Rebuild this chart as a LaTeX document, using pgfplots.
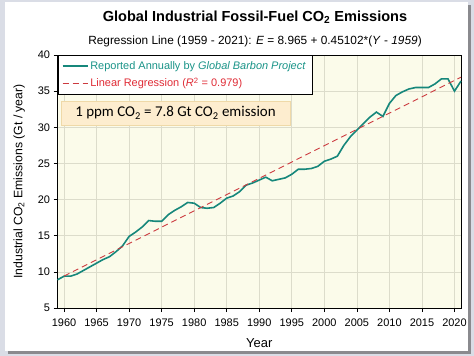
\documentclass[border=0pt]{standalone}
\usepackage{pgfplots}
\pgfplotsset{compat=1.18}
\usepackage{fontspec}
\setmainfont{Liberation Sans}
\newfontfamily\calibri{Carlito}
\definecolor{teal1}{HTML}{16877B}
\definecolor{tealtxt}{HTML}{1A9488}
\definecolor{red1}{HTML}{CC3A3F}
\definecolor{redtxt}{HTML}{E02C36}
\definecolor{bgplot}{HTML}{FBFBEA}
\definecolor{gridc}{HTML}{DCDCCB}
\definecolor{boxfill}{HTML}{FDEDCF}
\definecolor{boxdraw}{HTML}{EFD9A8}
\definecolor{outer}{HTML}{DADDE6}
\definecolor{shadow}{HTML}{8A8A8E}
\begin{document}
\begin{tikzpicture}
\useasboundingbox (0bp,0bp) rectangle (474bp,-356bp);
\fill[outer] (0bp,0bp) rectangle (474bp,-356bp);
\fill[shadow] (8bp,-5bp) rectangle (471bp,-354bp);
\fill[white] (5bp,-2bp) rectangle (468bp,-351bp);
\node[font=\fontsize{14.6}{17}\selectfont\bfseries] at (255bp,-17bp) {Global Industrial Fossil-Fuel CO\textsubscript{2} Emissions};
\node[font=\fontsize{11.9}{14}\selectfont] at (255bp,-41bp) {Regression Line (1959 - 2021): \textit{E} = 8.965 + 0.45102*(\textit{Y} - \textit{1959})};
\begin{axis}[
  at={(57.5bp,-308bp)}, anchor=south west,
  scale only axis, width=403.5bp, height=253bp,
  xmin=1959, xmax=2021, ymin=5, ymax=40,
  xtick={1960,1965,...,2020}, ytick={5,10,...,40},
  axis background/.style={fill=bgplot},
  grid=major, major grid style={gridc, line width=0.6pt},
  tick align=outside, tick pos=left,
  major tick length=4bp,
  tick style={black, line width=0.6pt},
  axis line style={line width=0.8pt},
  /pgf/number format/1000 sep={},
  /pgf/number format/assume math mode=true,
  ticklabel style={font=\fontsize{11}{13}\selectfont},
  xticklabel style={yshift=-3bp},
  xlabel={Year}, xlabel style={font=\fontsize{13}{15}\selectfont, yshift=-5bp},
  ylabel={Industrial CO\textsubscript{2} Emissions (Gt / year)},
  ylabel style={font=\fontsize{12.3}{14}\selectfont, yshift=6bp},
  legend style={at={(0,1)}, anchor=north west, draw=black, fill=white,
    line width=0.5pt, font=\fontsize{11}{13}\selectfont, inner xsep=4bp, inner ysep=4bp,
    row sep=3bp, cells={anchor=west}},
  legend image code/.code={\draw[#1] (0bp,0bp) -- (25bp,0bp);},
  legend cell align=left,
  clip=false,
]
\addplot[teal1, line width=1.6pt] coordinates {
(1959,8.9) (1960,9.4) (1961,9.4) (1962,9.7) (1963,10.2) (1964,10.7) (1965,11.2)
(1966,11.7) (1967,12.1) (1968,12.8) (1969,13.6) (1970,14.9) (1971,15.5) (1972,16.2)
(1973,17.1) (1974,17.0) (1975,17.0) (1976,17.9) (1977,18.5) (1978,19.0) (1979,19.6)
(1980,19.5) (1981,18.9) (1982,18.8) (1983,18.9) (1984,19.5) (1985,20.2) (1986,20.5)
(1987,21.1) (1988,22.0) (1989,22.3) (1990,22.7) (1991,23.1) (1992,22.6) (1993,22.8)
(1994,23.0) (1995,23.5) (1996,24.2) (1997,24.2) (1998,24.3) (1999,24.6) (2000,25.3)
(2001,25.6) (2002,26.0) (2003,27.5) (2004,28.7) (2005,29.6) (2006,30.5) (2007,31.4)
(2008,32.1) (2009,31.5) (2010,33.3) (2011,34.4) (2012,34.9) (2013,35.3) (2014,35.5)
(2015,35.5) (2016,35.5) (2017,36.0) (2018,36.7) (2019,36.7) (2020,35.0) (2021,36.4)
};
\addlegendentry{\textcolor{tealtxt}{Reported Annually by \textit{Global Barbon Project}}}
\addplot[red1, line width=0.9pt, dash pattern=on 6bp off 4bp] coordinates {(1960,9.416) (2021,36.927)};
\addlegendentry{\textcolor{redtxt}{Linear Regression (\textit{R}\textsuperscript{2} = 0.979)}}
\end{axis}
\node[fill=boxfill, draw=boxdraw, line width=0.8pt, minimum width=229bp, minimum height=24bp, inner sep=0pt,
  font=\calibri\fontsize{15}{17}\selectfont] at (175.5bp,-113bp) {1 ppm CO\textsubscript{2} = 7.8 Gt CO\textsubscript{2} emission};
\end{tikzpicture}
\end{document}
